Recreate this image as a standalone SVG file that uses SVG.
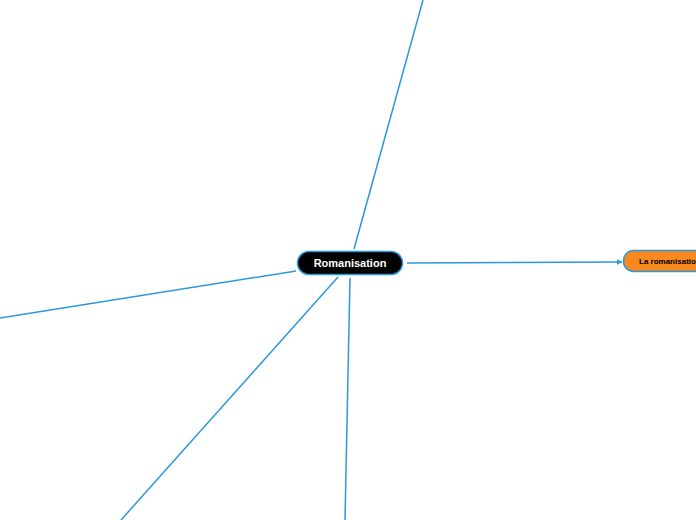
<svg xmlns="http://www.w3.org/2000/svg" width="696" height="520" viewBox="0 0 696 520">
<style>
.edge{stroke:#2b98dc;stroke-width:1.5;fill:none}
.lbl{font-family:"Liberation Sans",Arial,sans-serif;font-weight:bold}
</style>
<defs>
<marker id="arr" viewBox="0 0 10 10" refX="9" refY="5" markerWidth="6" markerHeight="6" orient="auto" markerUnits="userSpaceOnUse">
<path d="M0,0 L10,5 L0,10 z" fill="#2b98dc"/>
</marker>
</defs>
<rect width="696" height="520" fill="#ffffff"/>
<g id="connectors">
<line class="edge" x1="354" y1="249" x2="423" y2="0"/>
<line class="edge" x1="407" y1="263" x2="622" y2="262" marker-end="url(#arr)"/>
<line class="edge" x1="296" y1="271" x2="0" y2="318"/>
<line class="edge" x1="338" y1="277" x2="121" y2="520"/>
<line class="edge" x1="350" y1="278" x2="345" y2="520"/>
</g>
<g id="node-romanisation">
<rect x="297.5" y="251.5" width="105" height="23" rx="11.5" fill="#000000" stroke="#2b98dc" stroke-width="1.5"/>
<text class="lbl" x="350" y="267" font-size="11" fill="#ffffff" text-anchor="middle">Romanisation</text>
</g>
<g id="node-la-romanisation">
<rect x="623.5" y="250.5" width="100" height="21" rx="10" fill="#f7891f" stroke="#2b98dc" stroke-width="1.5"/>
<text class="lbl" x="639" y="263.5" font-size="8" fill="#000000">La romanisation</text>
</g>
</svg>
